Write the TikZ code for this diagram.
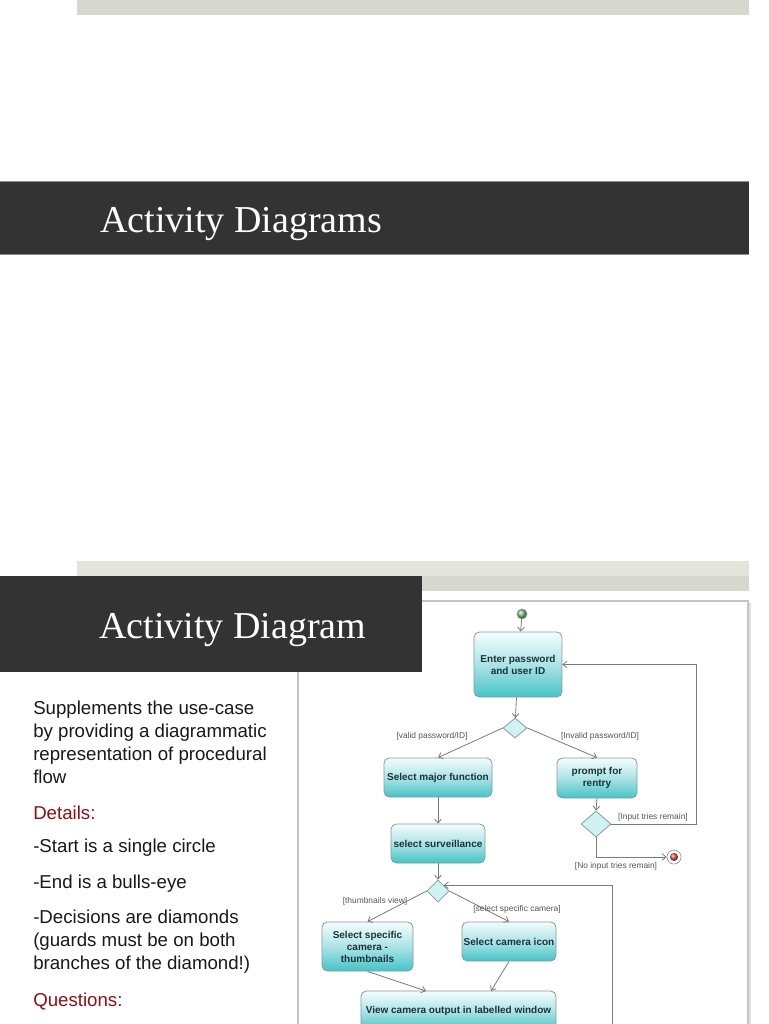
\documentclass[tikz,border=0pt]{standalone}
\usepackage{fontspec}
\setmainfont{Liberation Serif}
\setsansfont{Liberation Sans}
\usetikzlibrary{arrows.meta,shapes.geometric}
\definecolor{bandgrey}{HTML}{D6D8CF}
\definecolor{bandlight}{HTML}{E3E4DC}
\definecolor{darkbar}{HTML}{333333}
\definecolor{framegrey}{HTML}{C4C4C4}
\definecolor{boxteal}{HTML}{46C3C7}
\definecolor{boxtop}{HTML}{F4FDFD}
\definecolor{boxline}{HTML}{8A9A9A}
\definecolor{diafill}{HTML}{CFF3F5}
\definecolor{linegrey}{HTML}{7A7A7A}
\definecolor{boxtext}{HTML}{1C3238}
\definecolor{guardtext}{HTML}{555555}
\definecolor{headred}{HTML}{8E1010}
\begin{document}
\begin{tikzpicture}[x=0.75pt,y=-0.75pt,
  act/.style={rectangle, rounded corners=4pt, draw=boxline, line width=0.6pt,
    top color=boxtop, bottom color=boxteal, middle color=boxteal!45!white,
    align=center, inner sep=1pt, text=boxtext,
    font=\sffamily\bfseries\fontsize{7.5}{9}\selectfont},
  dec/.style={diamond, draw=boxline, line width=0.6pt, fill=diafill, inner sep=0pt},
  arr/.style={draw=linegrey, line width=0.6pt, -{Straight Barb[length=3pt,width=5pt]}},
  guard/.style={text=guardtext, inner sep=0pt, font=\sffamily\fontsize{6.3}{7}\selectfont},
  title/.style={text=white, inner sep=0pt, anchor=base west, font=\fontsize{28.5}{32}\selectfont},
  body/.style={text=black!90, inner sep=0pt, anchor=base west, font=\sffamily\fontsize{14}{17}\selectfont},
  head/.style={body, text=headred}]
\useasboundingbox (0,0) rectangle (768,1024);
\clip (0,0) rectangle (768,1024);
\fill[white] (0,0) rectangle (768,1024);
% top band
\fill[bandgrey] (77,0) rectangle (749,15);
% first title bar
\fill[darkbar] (0,181) rectangle (749,254);
\draw[black!45, line width=0.5pt] (0,181) -- (749,181) (0,254) -- (749,254);
\node[title] (t1) at (100,232) {Activity Diagrams};
% second band
\fill[bandlight] (77,561) rectangle (749,576);
\fill[bandgrey] (77,576) rectangle (749,591);
% frame of diagram
\draw[framegrey, line width=0.8pt] (298,1030) -- (298,601) -- (748,601) -- (748,1030);
\draw[black!12, line width=1.2pt] (750,603) -- (750,1030);
% second title box
\fill[darkbar] (0,576) rectangle (422,672);
\node[title] (t2) at (99,638) {Activity Diagram};
% left text
\node[body] (l1) at (33,714) {Supplements the use-case};
\node[body] (l2) at (33,737) {by providing a diagrammatic};
\node[body] (l3) at (33,760) {representation of procedural};
\node[body] (l4) at (33,783) {flow};
\node[head] (l5) at (33,819) {Details:};
\node[body] (l6) at (33,852) {-Start is a single circle};
\node[body] (l7) at (33,888) {-End is a bulls-eye};
\node[body] (l8) at (33,923) {-Decisions are diamonds};
\node[body] (l9) at (33,946) {(guards must be on both};
\node[body] (l10) at (33,969) {branches of the diamond!)};
\node[head] (l11) at (33,1006) {Questions:};
% diagram nodes
\node[circle, draw=boxline, line width=0.5pt, shading=ball, ball color={rgb,255:red,120;green,196;blue,128}, minimum size=7.5pt, inner sep=0pt] (start) at (522,614) {};
\node[act, minimum width=66pt, minimum height=48.75pt] (enter) at (518,664.5) {Enter password\\and user ID};
\node[dec, minimum width=18pt, minimum height=15pt] (d1) at (515,728) {};
\node[act, minimum width=81pt, minimum height=29.25pt] (smf) at (438,777.5) {Select major function};
\node[act, minimum width=60pt, minimum height=30pt] (prompt) at (597,778) {prompt for\\rentry};
\node[dec, minimum width=22.5pt, minimum height=19.5pt] (d2) at (596,824) {};
\node[circle, draw=boxline, fill=white, line width=0.5pt, minimum size=10.5pt, inner sep=0pt] (end) at (674,857) {};
\node[circle, shading=ball, ball color={rgb,255:red,232;green,80;blue,64}, minimum size=6pt, inner sep=0pt] (endin) at (674,857) {};
\node[act, minimum width=70.5pt, minimum height=29.25pt] (surv) at (438,843.5) {select surveillance};
\node[dec, minimum width=16.5pt, minimum height=16.5pt] (d3) at (438,891) {};
\node[act, minimum width=68.25pt, minimum height=36.75pt] (thumb) at (367.5,946.5) {Select specific\\camera -\\thumbnails};
\node[act, minimum width=70.5pt, minimum height=29.25pt] (icon) at (509,941.5) {Select camera icon};
\node[act, minimum width=146.25pt, minimum height=30pt] (view) at (458.5,1011) {View camera output in labelled window};
% free ends / bends
\coordinate (rt) at (696,664.5);
\coordinate (lb) at (612,1030);
\coordinate (v1) at (426,991);
\coordinate (v2) at (491,991);
% connectors
\draw[arr] (start) -- (enter);
\draw[arr] (enter) -- (d1);
\draw[arr] (d1.west) -- (smf.north);
\draw[arr] (d1.east) -- (prompt.north);
\draw[arr] (smf.south) -- (surv.north);
\draw[arr] (prompt.south) -- (d2.north);
\draw[arr] (d2.east) -| (rt) -- (enter.east);
\draw[arr] (d2.south) |- (end.west);
\draw[arr] (surv.south) -- (d3.north);
\draw[arr] (d3.west) -- (thumb.north);
\draw[arr] (d3.east) -- (icon.north);
\draw[arr] (thumb.south) -- (v1);
\draw[arr] (icon.south) -- (v2);
\draw[arr] (lb) |- (d3.north east);
% guards
\node[guard] (g1) at (432,736) {[valid password/ID]};
\node[guard] (g2) at (600,736) {[Invalid password/ID]};
\node[guard] (g3) at (653,817) {[Input tries remain]};
\node[guard] (g4) at (616,866) {[No input tries remain]};
\node[guard] (g5) at (375,901) {[thumbnails view]};
\node[guard] (g6) at (517,909) {[select specific camera]};
\end{tikzpicture}
\end{document}
